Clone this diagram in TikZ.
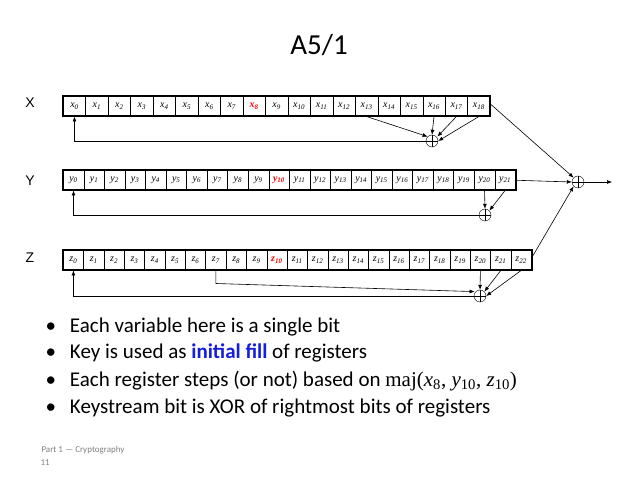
\documentclass[tikz,border=0pt]{standalone}
\usepackage{fontspec}
\setmainfont{Carlito}
\newfontfamily\tms{Liberation Serif}
\newfontfamily\ars{Liberation Sans}
\usetikzlibrary{arrows.meta}
\definecolor{keyblue}{RGB}{20,30,220}
\begin{document}
\begin{tikzpicture}[x=1pt,y=-1pt,
  cell/.style={draw,line width=0.5pt,minimum height=20pt,inner sep=0pt,anchor=north west,font=\tms\itshape\fontsize{10}{10}\selectfont},
  hot/.style={text=red,font=\tms\bfseries\itshape\fontsize{10}{10}\selectfont},
  reg/.style={draw,line width=2pt},
  xor/.style={circle,draw,minimum size=12pt,inner sep=0pt,path picture={\draw (path picture bounding box.north)--(path picture bounding box.south) (path picture bounding box.west)--(path picture bounding box.east);}},
  arr/.style={-{Latex[length=5pt,width=4pt]},line width=0.6pt},
  lbl/.style={font=\ars\fontsize{14}{14}\selectfont},
  bul/.style={anchor=west,font=\fontsize{21}{21}\selectfont}]
\useasboundingbox (0,0) rectangle (638,478);
\node (title) at (319,45) {\fontsize{29}{29}\selectfont A5/1};
\node[lbl] (lx) at (30,103) {X};
\node[lbl] (ly) at (30,181) {Y};
\node[lbl] (lz) at (30,258) {Z};
\foreach \i in {0,...,18}{
  \ifnum\i=8 \node[cell,hot,minimum width=22.47pt] (x\i) at (63+22.47*\i,96) {x\textsubscript{\i}};
  \else \node[cell,minimum width=22.47pt] (x\i) at (63+22.47*\i,96) {x\textsubscript{\i}};\fi}
\draw[reg] (x0.north west) rectangle (x18.south east);
\foreach \i in {0,...,21}{
  \ifnum\i=10 \node[cell,hot,minimum width=20.55pt] (y\i) at (63+20.55*\i,170) {y\textsubscript{\i}};
  \else \node[cell,minimum width=20.55pt] (y\i) at (63+20.55*\i,170) {y\textsubscript{\i}};\fi}
\draw[reg] (y0.north west) rectangle (y21.south east);
\foreach \i in {0,...,22}{
  \ifnum\i=10 \node[cell,hot,minimum width=20.35pt] (z\i) at (63+20.35*\i,250) {z\textsubscript{\i}};
  \else \node[cell,minimum width=20.35pt] (z\i) at (63+20.35*\i,250) {z\textsubscript{\i}};\fi}
\draw[reg] (z0.north west) rectangle (z22.south east);
\node[xor] (ax) at (432,141) {};
\node[xor] (ay) at (485,215) {};
\node[xor] (az) at (480,296) {};
\node[xor] (af) at (578,182) {};
\coordinate (out) at (612,182);
\draw[arr] (x13.south) -- (ax.north west);
\draw[arr] (x16.south) -- (ax.north);
\draw[arr] (x17.south) -- ([xshift=1pt]ax.north east);
\draw[arr] (x18.south) -- (ax.east);
\draw[arr] (ax.west) -- (x0.south |- ax.west) -- (x0.south);
\draw[arr] (y20.south) -- (ay.north);
\draw[arr] (y21.south) -- (ay.north east);
\draw[arr] (ay.west) -- (y0.south |- ay.west) -- (y0.south);
\coordinate (z7c) at ([yshift=-13pt]z7.south);
\draw[arr] (z7.south) -- (z7c) -- ([xshift=-1pt]az.north west);
\draw[arr] (z20.south) -- (az.north);
\draw[arr] (z21.south) -- (az.north east);
\draw[arr] (z22.south) -- (az.east);
\draw[arr] (az.west) -- (z0.south |- az.west) -- (z0.south);
\draw[arr] (x18.north east) ++(0,8) -- (af.north west);
\draw[arr] (y21.east) -- (af.west);
\draw[arr] (z22.north east) ++(0,8) -- (af.south west);
\draw[arr] (af.east) -- (out);
\node[bul] (b1) at (42,327) {\textbullet\hspace{14pt}Each variable here is a single bit};
\node[bul] (b2) at (42,353) {\textbullet\hspace{14pt}Key is used as \textcolor{keyblue}{\textbf{initial fill}} of registers};
\node[bul] (b3) at (42,381) {\textbullet\hspace{14pt}Each register steps (or not) based on {\tms maj(\textit{x}\textsubscript{8}, \textit{y}\textsubscript{10}, \textit{z}\textsubscript{10})}};
\node[bul] (b4) at (42,408) {\textbullet\hspace{14pt}Keystream bit is XOR of rightmost bits of registers};
\node[anchor=west,text=gray,font=\fontsize{9}{9}\selectfont] (f1) at (38,450) {Part 1 — Cryptography};
\node[anchor=west,text=gray,font=\fontsize{9}{9}\selectfont] (f2) at (37,463) {11};
\end{tikzpicture}
\end{document}
